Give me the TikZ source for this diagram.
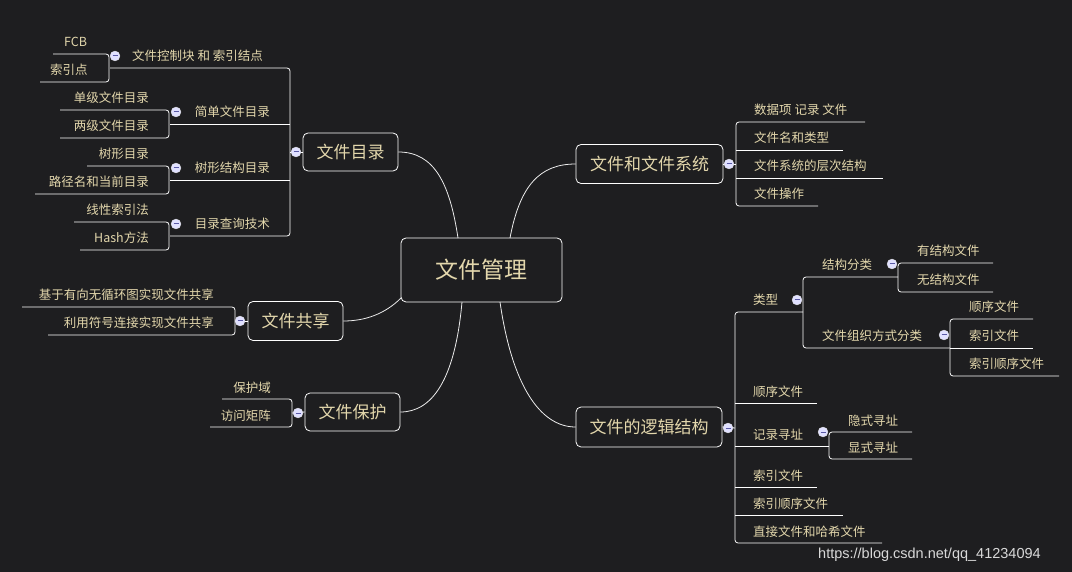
\documentclass[tikz,border=0pt]{standalone}
\usepackage{fontspec}
\usetikzlibrary{calc}
\setmainfont{Noto Sans CJK SC}
\newfontfamily\wmfont{Liberation Sans}
\definecolor{bg}{HTML}{1E1E20}
\definecolor{txt}{HTML}{E3D7AC}
\begin{document}
\begin{tikzpicture}[x=1pt,y=-1pt,
  ln/.style={draw=white,line width=0.8pt,rounded corners=3pt},
  cv/.style={draw=white!85!gray,line width=0.8pt},
  lbl/.style={text=txt,font=\fontsize{12.5}{13}\selectfont,inner sep=0pt},
  topic/.style={draw=white,line width=0.8pt,rounded corners=5pt,fill=bg,text=txt,font=\fontsize{17}{18}\selectfont,inner sep=0pt},
  ccl/.style={circle,fill=white!88!blue,minimum size=10pt,inner sep=0pt,draw=white!70!gray,line width=0.3pt}]
\fill[bg] (0,0) rectangle (1072,572);
\useasboundingbox (0,0) rectangle (1072,572);
\newcommand\lbW[4]{\node[lbl,anchor=base west] (#1) at (#2,{#3-7}) {#4};}
\newcommand\lbE[4]{\node[lbl,anchor=base east] (#1) at (#2,{#3-7}) {#4};}
\newcommand\ccN[3]{\node[ccl] (#1) at (#2,#3) {}; \draw[gray!70!blue,line width=1pt] ($(#1)+(-2.5,0)$)--($(#1)+(2.5,0)$);}
% ---- boxes
\node[topic,minimum width=161pt,minimum height=64pt,font=\fontsize{23}{24}\selectfont] (root) at (481.5,270) {文件管理};
\node[topic,minimum width=95pt,minimum height=38pt] (dir) at (350.5,152) {文件目录};
\node[topic,minimum width=95pt,minimum height=39pt] (share) at (295.5,321) {文件共享};
\node[topic,minimum width=95pt,minimum height=38pt] (prot) at (352.5,412) {文件保护};
\node[topic,minimum width=147pt,minimum height=39pt] (fs) at (649.5,164) {文件和文件系统};
\node[topic,minimum width=146pt,minimum height=40pt] (logic) at (649,427) {文件的逻辑结构};
% ---- curves
\draw[cv] (458,238) .. controls (450,185) and (435,152) .. (dir.east);
\draw[cv] (510,238) .. controls (520,185) and (540,164) .. (fs.west);
\draw[cv] (401,298) .. controls (385,314) and (365,321) .. (share.east);
\draw[cv] (462,302) .. controls (455,380) and (432,412) .. (prot.east);
\draw[cv] (500,302) .. controls (512,385) and (540,427) .. (logic.west);
% ---- 文件目录
\draw[ln] (110,68)--(290,68)--(290,236)--(170,236);
\draw[ln] (170,124)--(290,124); \draw[ln] (170,180)--(290,180); \draw[ln] (290,152)--(dir.west);
\lbW{a1}{132}{68}{文件控制块 和 索引结点}
\lbE{a2}{270}{124}{简单文件目录}
\lbE{a3}{270}{180}{树形结构目录}
\lbE{a4}{270}{236}{目录查询技术}
\draw[ln] (53,54)--(109,54)--(109,82)--(40,82);
\lbW{b1}{64}{54}{FCB} \lbW{b2}{50}{82}{索引点}
\draw[ln] (60,110)--(169,110)--(169,138)--(60,138);
\lbE{b3}{149}{110}{单级文件目录} \lbE{b4}{149}{138}{两级文件目录}
\draw[ln] (87,166)--(169,166)--(169,194)--(35,194);
\lbE{b5}{149}{166}{树形目录} \lbE{b6}{149}{194}{路径名和当前目录}
\draw[ln] (74,222)--(169,222)--(169,250)--(80,250);
\lbE{b7}{149}{222}{线性索引法} \lbE{b8}{149}{250}{Hash方法}
\ccN{c1}{296}{152} \ccN{c2}{115}{56} \ccN{c3}{176}{112} \ccN{c4}{176}{168} \ccN{c5}{176}{224}
% ---- 文件共享
\draw[ln] (22,307)--(235,307)--(235,335)--(48,335); \draw[ln] (235,321)--(share.west);
\lbE{s1}{214}{307}{基于有向无循环图实现文件共享} \lbE{s2}{214}{335}{利用符号连接实现文件共享}
\ccN{c6}{240}{321}
% ---- 文件保护
\draw[ln] (222,399)--(292,399)--(292,427)--(210,427); \draw[ln] (292,413)--(prot.west);
\lbE{p1}{271}{399}{保护域} \lbE{p2}{271}{427}{访问矩阵}
\ccN{c7}{298}{413}
% ---- 文件和文件系统
\draw[ln] (865,122)--(736,122)--(736,206)--(818,206);
\draw[ln] (736,150)--(843,150); \draw[ln] (736,178)--(883,178); \draw[ln] (fs.east)--(736,164);
\lbW{f1}{754}{122}{数据项 记录 文件} \lbW{f2}{754}{150}{文件名和类型}
\lbW{f3}{754}{178}{文件系统的层次结构} \lbW{f4}{754}{206}{文件操作}
\ccN{c8}{729}{164}
% ---- 文件的逻辑结构
\draw[ln] (803,312)--(735,312)--(735,543)--(882,543);
\draw[ln] (logic.east)--(735,428);
\draw[ln] (735,403)--(817,403); \draw[ln] (735,446)--(829,446);
\draw[ln] (735,487)--(817,487); \draw[ln] (735,515)--(843,515);
\lbW{g1}{753}{312}{类型} \lbW{g2}{753}{403}{顺序文件} \lbW{g3}{753}{446}{记录寻址}
\lbW{g4}{753}{487}{索引文件} \lbW{g5}{753}{515}{索引顺序文件} \lbW{g6}{753}{543}{直接文件和哈希文件}
\draw[ln] (898,277)--(803,277)--(803,348)--(950,348);
\lbW{h1}{822}{277}{结构分类} \lbW{h2}{822}{348}{文件组织方式分类}
\draw[ln] (993,263)--(898,263)--(898,292)--(993,292);
\lbW{i1}{917}{263}{有结构文件} \lbW{i2}{917}{292}{无结构文件}
\draw[ln] (1033,319)--(950,319)--(950,376)--(1059,376); \draw[ln] (950,348)--(1033,348);
\lbW{j1}{969}{319}{顺序文件} \lbW{j2}{969}{348}{索引文件} \lbW{j3}{969}{376}{索引顺序文件}
\draw[ln] (912,432)--(829,432)--(829,459)--(912,459);
\lbW{k1}{848}{432}{隐式寻址} \lbW{k2}{848}{459}{显式寻址}
\ccN{c9}{728}{428} \ccN{c10}{797}{300} \ccN{c11}{892}{264} \ccN{c12}{944}{335} \ccN{c13}{823}{432}
% ---- watermark
\node[anchor=base west,inner sep=0pt,text=white!70!gray,font=\wmfont\fontsize{14.5}{15}\selectfont] (wm) at (818,558) {https://blog.csdn.net/qq\_41234094};
\end{tikzpicture}
\end{document}
